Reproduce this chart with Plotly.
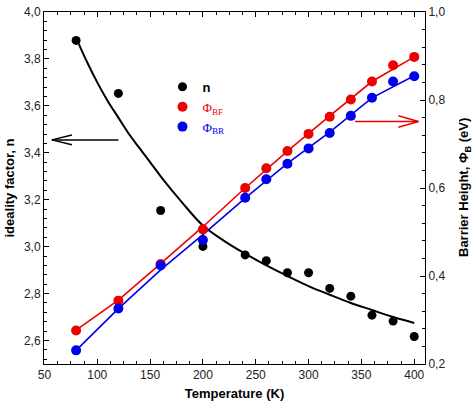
import plotly.graph_objects as go

# ---- data ----
temps = [80, 120, 160, 200, 240, 260, 280, 300, 320, 340, 360, 380, 400]
n_vals = [3.879, 3.653, 3.154, 3.001, 2.965, 2.940, 2.889, 2.889, 2.822, 2.789, 2.708, 2.683, 2.617]
phi_bf = [0.276, 0.344, 0.427, 0.506, 0.600, 0.645, 0.684, 0.723, 0.762, 0.801, 0.842, 0.879, 0.898]
phi_br = [0.231, 0.326, 0.424, 0.482, 0.578, 0.620, 0.655, 0.690, 0.725, 0.764, 0.805, 0.842, 0.854]

# fitted curves
n_fit_T = [80, 90, 100, 110, 120, 130, 140, 150, 160, 180, 200, 220, 240, 260, 280, 300, 320, 340, 360, 380, 400]
n_fit = [3.89, 3.79, 3.70, 3.62, 3.55, 3.48, 3.42, 3.36, 3.30, 3.19, 3.09, 3.025, 2.97, 2.92, 2.875, 2.832, 2.795, 2.76, 2.73, 2.70, 2.675]
phi_fit_T = [80, 120, 160, 200, 240, 280, 320, 360, 400]
bf_fit = [0.277, 0.345, 0.428, 0.512, 0.600, 0.684, 0.764, 0.842, 0.898]
br_fit = [0.231, 0.326, 0.414, 0.494, 0.577, 0.656, 0.727, 0.805, 0.855]

x_ticks = [50, 100, 150, 200, 250, 300, 350, 400]
n_ticks = [2.6, 2.8, 3.0, 3.2, 3.4, 3.6, 3.8, 4.0]
phi_ticks = [0.2, 0.4, 0.6, 0.8, 1.0]

FONT = "Liberation Sans, Arial, sans-serif"
SERIF = "Liberation Serif, Times New Roman, serif"
RED = "#ee0000"
BLUE = "#0000ee"

fig = go.Figure()

fig.add_trace(go.Scatter(x=n_fit_T, y=n_fit, mode="lines", line=dict(color="black", width=2, shape="spline"),
                         showlegend=False, hoverinfo="skip"))
fig.add_trace(go.Scatter(x=phi_fit_T, y=bf_fit, mode="lines", line=dict(color=RED, width=1.6),
                         yaxis="y2", showlegend=False, hoverinfo="skip"))
fig.add_trace(go.Scatter(x=phi_fit_T, y=br_fit, mode="lines", line=dict(color=BLUE, width=1.6),
                         yaxis="y2", showlegend=False, hoverinfo="skip"))

fig.add_trace(go.Scatter(x=temps, y=n_vals, mode="markers", marker=dict(color="black", size=9),
                         name="<b>n</b>"))
fig.add_trace(go.Scatter(x=temps, y=phi_bf, mode="markers", marker=dict(color=RED, size=10), yaxis="y2",
                         name=f"<span style='font-family:{SERIF};color:{RED}'>Φ<sub>BF</sub></span>"))
fig.add_trace(go.Scatter(x=temps, y=phi_br, mode="markers", marker=dict(color=BLUE, size=10), yaxis="y2",
                         name=f"<span style='font-family:{SERIF};color:{BLUE}'>Φ<sub>BR</sub></span>"))

# arrows (open V heads)
shapes = []
shapes.append(dict(type="line", xref="x", yref="y", x0=120, x1=57, y0=3.455, y1=3.455, line=dict(color="black", width=1.5)))
shapes.append(dict(type="line", xref="x", yref="y", x0=57, x1=76, y0=3.455, y1=3.476, line=dict(color="black", width=1.5)))
shapes.append(dict(type="line", xref="x", yref="y", x0=57, x1=76, y0=3.455, y1=3.434, line=dict(color="black", width=1.5)))
shapes.append(dict(type="line", xref="x", yref="y2", x0=344, x1=404, y0=0.751, y1=0.751, line=dict(color=RED, width=1.5)))
shapes.append(dict(type="line", xref="x", yref="y2", x0=404, x1=385, y0=0.751, y1=0.764, line=dict(color=RED, width=1.5)))
shapes.append(dict(type="line", xref="x", yref="y2", x0=404, x1=385, y0=0.751, y1=0.738, line=dict(color=RED, width=1.5)))

axis_common = dict(showline=True, linecolor="black", linewidth=1, ticks="inside", ticklen=5, tickcolor="black",
                   showgrid=False, zeroline=False, ticklabeloverflow="allow",
                   tickfont=dict(family=FONT, size=12, color="#222"))

fig.update_layout(
    width=474, height=408,
    margin=dict(l=44, r=49, t=5, b=44),
    paper_bgcolor="white", plot_bgcolor="white",
    separators=",.",
    shapes=shapes,
    xaxis=dict(range=[49.6, 410.2], tickvals=x_ticks, mirror="ticks",
               minor=dict(dtick=12.5, tick0=50, ticks="inside", ticklen=3, tickcolor="black"),
               title=dict(text="<b>Temperature (K)</b>", font=dict(family=FONT, size=13, color="black"), standoff=7),
               **axis_common),
    yaxis=dict(range=[2.5, 4.0], tickvals=n_ticks, tickformat=".1f",
               minor=dict(dtick=0.04, tick0=2.6, ticks="inside", ticklen=3, tickcolor="black"),
               title=dict(text="<b>ideality factor, n</b>", font=dict(family=FONT, size=13, color="black"), standoff=6),
               **axis_common),
    yaxis2=dict(range=[0.2, 1.0], tickvals=phi_ticks, tickformat=".1f", overlaying="y", side="right",
                minor=dict(dtick=0.04, tick0=0.2, ticks="inside", ticklen=3, tickcolor="black"),
                **axis_common),
    annotations=[dict(text="<b>Barrier Height, Φ<sub>B</sub> (eV)</b>", textangle=-90, showarrow=False,
                      xref="paper", yref="paper", x=(464 - 44) / 381, y=0.5, xanchor="center", yanchor="middle",
                      font=dict(family=FONT, size=13, color="black"))],
    legend=dict(x=0.311, y=0.83, xanchor="left", yanchor="top", bgcolor="rgba(0,0,0,0)",
                font=dict(family=FONT, size=13, color="black"), itemwidth=30),
)

fig.write_html("out.html")
